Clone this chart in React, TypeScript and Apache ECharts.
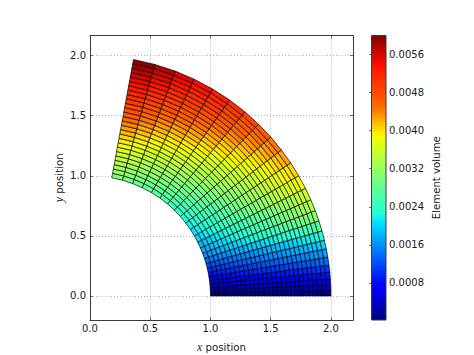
import React, { useEffect, useRef } from "react";
import * as echarts from "echarts";

const radiusEdges = [1.0, 1.037, 1.074, 1.111, 1.148, 1.185, 1.222, 1.259, 1.296, 1.333, 1.37, 1.407, 1.444, 1.481, 1.518, 1.556, 1.593, 1.63, 1.667, 1.704, 1.741, 1.778, 1.815, 1.852, 1.889, 1.926, 1.963, 2.0];
const thetaEdgesDeg = [0, 1.35, 2.7, 4.1, 5.7, 7.4, 9.3, 11.3, 13.4, 15.7, 18.2, 20.8, 23.6, 26.6, 30, 33.6, 37.4, 41.4, 45.6, 50, 54.6, 59.4, 64.4, 69.3, 74.4, 79.6];
const outerBandVolume = [0.0001, 0.0004, 0.0006, 0.0009, 0.0011, 0.0014, 0.0017, 0.002, 0.0023, 0.0027, 0.0031, 0.0034, 0.0036, 0.0039, 0.0041, 0.0043, 0.0045, 0.0047, 0.0049, 0.0051, 0.0053, 0.00545, 0.0056, 0.0058, 0.006];
const xTicks = [0, 0.5, 1, 1.5, 2];
const yTicks = [0, 0.5, 1, 1.5, 2];
const colorbarTicks = [0.0008, 0.0016, 0.0024, 0.0032, 0.004, 0.0048, 0.0056];
const volumeMin = 0.00002;
const volumeMax = 0.006;
const jetStops: [number, string][] = [
  [0, "#00007f"], [0.11, "#0000ff"], [0.125, "#0000ff"], [0.34, "#00e0ff"], [0.375, "#1fffd8"],
  [0.5, "#7dff7a"], [0.64, "#f0ff06"], [0.66, "#ffea00"], [0.75, "#ff6800"], [0.89, "#ff1300"], [0.91, "#f10800"], [1, "#7f0000"],
];

function hexRgb(h: string) {
  return [1, 3, 5].map((i) => parseInt(h.slice(i, i + 2), 16));
}
function jet(t: number) {
  const v = Math.max(0, Math.min(1, t));
  for (let i = 1; i < jetStops.length; i++) {
    if (v <= jetStops[i][0]) {
      const [a, ca] = jetStops[i - 1];
      const [b, cb] = jetStops[i];
      const k = (v - a) / (b - a);
      const A = hexRgb(ca), B = hexRgb(cb);
      return `rgb(${A.map((x, n) => Math.round(x + (B[n] - x) * k)).join(",")})`;
    }
  }
  return jetStops[jetStops.length - 1][1];
}

const cells: number[][] = [];
for (let j = 0; j < outerBandVolume.length; j++) {
  for (let i = 0; i < radiusEdges.length - 1; i++) {
    const rm = (radiusEdges[i] + radiusEdges[i + 1]) / 2;
    cells.push([i, j, (outerBandVolume[j] * rm) / 2]);
  }
}

const FONT = "DejaVu Sans";
const TEXT = "#1a1a1a";
const FRAME = "#3a3a3a";

export default function App() {
  const ref = useRef<HTMLDivElement>(null);
  useEffect(() => {
    const chart = echarts.init(ref.current!, null, { renderer: "svg" });
    const nameRich = {
      m: { fontFamily: "Liberation Serif", fontStyle: "italic", fontSize: 11.5, color: TEXT },
      t: { fontFamily: FONT, fontSize: 10.2, color: TEXT },
    };
    const mainAxisCommon = {
      axisLine: { show: true, onZero: false, lineStyle: { color: FRAME, width: 1 } },
      axisTick: { show: true, inside: true, length: 3, lineStyle: { color: FRAME, width: 0.7 } },
    };
    const hiddenMirror = {
      axisLine: { show: true, onZero: false, lineStyle: { color: FRAME, width: 1 } },
      axisTick: { show: true, inside: true, length: 3, lineStyle: { color: FRAME, width: 0.7 } },
      axisLabel: { show: false },
      splitLine: { show: false },
    };
    const dotted = { show: true, lineStyle: { color: "#999", type: [1, 2], width: 0.8 } };
    chart.setOption({
      animation: false,
      backgroundColor: "#fff",
      grid: [
        { left: 90, top: 35.5, width: 263, height: 284.5, outerBoundsMode: "none" },
        { left: 371.5, top: 35.5, width: 14.5, height: 284.5, outerBoundsMode: "none" },
      ],
      xAxis: [
        {
          gridIndex: 0, type: "value", min: 0, max: 2.183, interval: 0.5, position: "bottom",
          ...mainAxisCommon,
          axisTick: { ...mainAxisCommon.axisTick, customValues: xTicks },
          axisLabel: { customValues: xTicks, fontFamily: FONT, fontSize: 10, color: TEXT, margin: 3.5, formatter: (v: number) => v.toFixed(1) },
          splitLine: dotted,
          name: "{m|x} {t|position}", nameLocation: "middle", nameGap: 21, nameMoveOverlap: false,
          nameTextStyle: { rich: nameRich },
        },
        {
          gridIndex: 0, type: "value", min: 0, max: 2.183, position: "top",
          ...hiddenMirror,
          axisTick: { ...hiddenMirror.axisTick, customValues: xTicks },
        },
        { gridIndex: 1, type: "value", min: 0, max: 1, show: false },
      ],
      yAxis: [
        {
          gridIndex: 0, type: "value", min: -0.2, max: 2.167, position: "left",
          ...mainAxisCommon,
          axisTick: { ...mainAxisCommon.axisTick, customValues: yTicks },
          axisLabel: { customValues: yTicks, fontFamily: FONT, fontSize: 10, color: TEXT, margin: 4, formatter: (v: number) => v.toFixed(1) },
          splitLine: dotted,
          name: "{m|y} {t|position}", nameLocation: "middle", nameGap: 25, nameRotate: 90, nameMoveOverlap: false,
          nameTextStyle: { rich: nameRich },
        },
        {
          gridIndex: 0, type: "value", min: -0.2, max: 2.167, position: "right",
          ...hiddenMirror,
          axisTick: { ...hiddenMirror.axisTick, customValues: yTicks },
        },
        {
          gridIndex: 1, type: "value", min: volumeMin, max: volumeMax, position: "right",
          axisLine: { show: false },
          axisTick: { show: true, inside: true, length: 2.5, customValues: colorbarTicks, lineStyle: { color: FRAME, width: 0.7 } },
          axisLabel: { customValues: colorbarTicks, fontFamily: FONT, fontSize: 10, color: TEXT, margin: 3, formatter: (v: number) => v.toFixed(4) },
          splitLine: { show: false },
          name: "Element volume", nameLocation: "middle", nameGap: 45, nameRotate: 90, nameMoveOverlap: false,
          nameTextStyle: { fontFamily: FONT, fontSize: 10.2, color: TEXT },
        },
      ],
      series: [
        {
          type: "custom", xAxisIndex: 0, yAxisIndex: 0, clip: true, silent: true,
          data: cells,
          encode: { x: [], y: [] },
          renderItem: (_: any, api: any) => {
            const i = api.value(0), j = api.value(1), v = api.value(2);
            const t0 = (thetaEdgesDeg[j] * Math.PI) / 180;
            const t1 = (thetaEdgesDeg[j + 1] * Math.PI) / 180;
            const r0 = radiusEdges[i], r1 = radiusEdges[i + 1];
            const pts = [[r0, t0], [r1, t0], [r1, t1], [r0, t1]].map(([r, t]) =>
              api.coord([r * Math.cos(t), r * Math.sin(t)])
            );
            return {
              type: "polygon",
              shape: { points: pts },
              style: { fill: jet((v - volumeMin) / (volumeMax - volumeMin)), stroke: "rgba(0,0,0,0.75)", lineWidth: 0.9 },
            };
          },
        },
        {
          type: "custom", xAxisIndex: 2, yAxisIndex: 2, silent: true, z: 1,
          data: [[0, volumeMin, 1, volumeMax]],
          encode: { x: [0, 2], y: [1, 3] },
          renderItem: (_: any, api: any) => {
            const a = api.coord([api.value(0), api.value(1)]);
            const b = api.coord([api.value(2), api.value(3)]);
            return {
              type: "rect",
              shape: { x: a[0], y: b[1], width: b[0] - a[0], height: a[1] - b[1] },
              style: {
                stroke: FRAME, lineWidth: 1,
                fill: {
                  type: "linear", x: 0, y: 1, x2: 0, y2: 0,
                  colorStops: jetStops.map(([offset, color]) => ({ offset, color })),
                },
              },
            };
          },
        },
      ],
    });
    return () => chart.dispose();
  }, []);
  return <div ref={ref} style={{ position: "absolute", left: 0, top: 0, width: 474, height: 355 }} />;
}
